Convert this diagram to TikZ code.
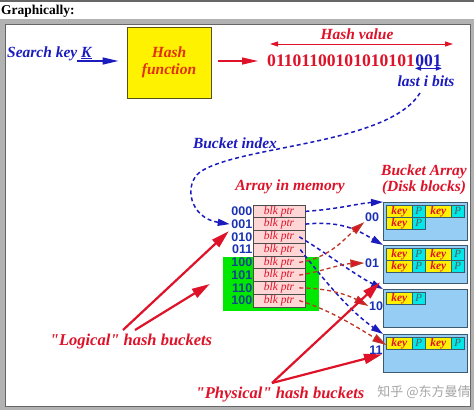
\documentclass[tikz,border=0pt]{standalone}
\usepackage{fontspec}
\setmainfont{Liberation Serif}
\setsansfont{Liberation Sans}
\newfontfamily\cjkfont{Noto Sans CJK SC}
\usetikzlibrary{arrows.meta}

\definecolor{myred}{RGB}{222,18,40}
\definecolor{fnred}{RGB}{226,48,12}
\definecolor{dashred}{RGB}{192,52,40}
\definecolor{myblue}{RGB}{28,28,190}
\definecolor{labblue}{RGB}{26,50,180}
\definecolor{labteal}{RGB}{16,70,140}
\definecolor{cellpink}{RGB}{255,214,214}
\definecolor{diskblue}{RGB}{150,205,245}
\definecolor{diskedge}{RGB}{60,90,110}
\definecolor{pcyan}{RGB}{0,232,232}
\definecolor{mygreen}{RGB}{0,232,0}
\definecolor{boxedge}{RGB}{90,80,20}

\newcommand\diskrec[3]{%
  \node[keybox] (#1k) at (#2,#3) {key};
  \node[pbox] (#1p) at ({#2+26},#3) {P};}

\tikzset{
  serifbi/.style={font=\fontsize{#1}{#1}\selectfont\bfseries\itshape, inner sep=0},
  bluetext/.style={serifbi=15.5, text=myblue},
  redtext/.style={serifbi=15.5, text=myred},
  hashbox/.style={draw=boxedge, line width=1pt, fill=yellow, minimum width=84, minimum height=71,
     align=center, font=\fontsize{15.5}{17}\selectfont\bfseries\itshape, text=fnred},
  cell/.style={draw=black!70, line width=0.6pt, fill=cellpink, minimum width=52, minimum height=12.75,
     inner sep=0, font=\fontsize{11.5}{11.5}\selectfont\itshape, text=myred},
  lbl/.style={font=\fontsize{12.5}{12.5}\selectfont\sffamily\bfseries, inner sep=0.5pt},
  disk/.style={draw=diskedge, line width=0.8pt, fill=diskblue, minimum width=84, minimum height=38,
     inner sep=0, anchor=north west},
  keybox/.style={draw=diskedge, line width=0.6pt, fill=yellow, minimum width=26, minimum height=12,
     inner sep=0, anchor=north west, font=\fontsize{11.5}{11.5}\selectfont\bfseries\itshape, text=myred},
  pbox/.style={draw=diskedge, line width=0.6pt, fill=pcyan, minimum width=13, minimum height=12,
     inner sep=0, anchor=north west, font=\fontsize{11}{11}\selectfont\itshape, text=black!65},
  bigred/.style={draw=myred, line width=2.2pt, -{Triangle[length=18pt,width=10pt]}},
  bluedash/.style={draw=myblue, line width=1.5pt, dash pattern=on 4pt off 3pt,
     -{Triangle[length=12pt,width=7pt]}},
  reddash/.style={draw=dashred, line width=1.3pt, dash pattern=on 4pt off 3pt,
     -{Triangle[length=14pt,width=8pt,fill=myred]}},
}

\begin{document}
\begin{tikzpicture}[x=1pt,y=-1pt]
\useasboundingbox (0,0) rectangle (474,410);

% page frame
\fill[black!60] (0,0) rectangle (474,2);
\node[anchor=west, font=\fontsize{13.5}{14}\selectfont\bfseries, inner sep=0] (title) at (1,11) {Graphically:};
\fill[black!30] (0,19) rectangle (474,410);
\fill[white] (5,24) rectangle (470,406);
\draw[black!60, line width=0.6pt] (5,24) rectangle (470,406);

% hashing
\node[hashbox] (hashfn) at (169,62.5) {Hash\\function};
\node[bluetext, anchor=base west] (search) at (7,57) {Search key \underline{K}};
\coordinate (skstart) at (77,61);
\draw[myblue, line width=1.5pt, -{Triangle[length=16pt,width=7pt]}]
  (skstart) -- ([xshift=-8pt]hashfn.west |- skstart);

\node[anchor=base west, inner sep=0, font=\fontsize{17.6}{17.6}\selectfont\bfseries, text=myred]
  (hv1) at (267,66) {01101100101010101};
\node[anchor=base west, inner sep=0, font=\fontsize{17.6}{17.6}\selectfont\bfseries, text=myblue]
  (hv2) at (hv1.base east) {001};
\draw[myred, line width=1.2pt, -{Triangle[length=16pt,width=7pt]}]
  ([xshift=6pt]hashfn.east |- skstart) -- ([xshift=-9pt]hv1.west |- skstart);

\node[redtext] (hvlabel) at (357,34) {Hash value};
\coordinate (hvl) at (270,44);
\coordinate (hvr) at (453,44);
\draw[myred, line width=1pt, {Triangle[length=8pt,width=5pt]}-{Triangle[length=8pt,width=5pt]}] (hvl) -- (hvr);
\draw[myblue, line width=1pt, {Triangle[length=6pt,width=4.5pt]}-{Triangle[length=6pt,width=4.5pt]}]
  ([yshift=-2pt]hv2.south west) -- ([yshift=-2pt]hv2.south east);
\node[bluetext] (lastbits) at (426,81) {last i bits};

\node[bluetext] (bidx) at (235,143) {Bucket index};

% array in memory
\node[redtext] (aim) at (290,187) {Array in memory};
\node[fill=mygreen, minimum width=96, minimum height=54, inner sep=0] (greenzone) at (271,284) {};
\foreach \lab [count=\i from 0] in {000,001,010,011} {
  \node[cell] (r\i) at (279, {205+12.75*(\i+0.5)}) {blk ptr};
  \node[lbl, anchor=east, text=labblue] (l\i) at (253, {205+12.75*(\i+0.5)}) {\lab};
}
\foreach \lab [count=\i from 4] in {100,101,110,100} {
  \node[cell] (r\i) at (279, {205+12.75*(\i+0.5)}) {blk ptr};
  \node[lbl, anchor=east, text=labteal] (l\i) at (253, {205+12.75*(\i+0.5)}) {\lab};
}

% bucket index curve
\coordinate (bistart) at (420,93);
\draw[bluedash] (bistart) .. controls (388,145) and (240,145) .. (200,172)
  .. controls (183,185) and (190,218) .. ([xshift=-1pt]l1.west);

% disk blocks
\node[redtext] (batitle) at (424,172) {Bucket Array};
\node[redtext] (batitle2) at (424,188) {(Disk blocks)};
\node[disk] (b1) at (383,202) {};
\node[disk] (b2) at (383,245) {};
\node[disk] (b3) at (383,289) {};
\node[disk] (b4) at (383,334) {};
\diskrec{b1a}{386}{205}
\diskrec{b1b}{425}{205}
\diskrec{b1c}{386}{217}
\diskrec{b2a}{386}{248}
\diskrec{b2b}{425}{248}
\diskrec{b2c}{386}{260}
\diskrec{b2d}{425}{260}
\diskrec{b3a}{386}{292}
\diskrec{b4a}{386}{337}
\diskrec{b4b}{425}{337}

\node[lbl, text=labblue] (n00) at (372,217) {00};
\node[lbl, text=labblue] (n01) at (372,263) {01};
\node[lbl, text=labblue] (n10) at (376,306) {10};
\node[lbl, text=labblue] (n11) at (376,350) {11};

% pointers
\draw[bluedash] (r0.east) .. controls (340,209) and (360,203) .. (b1.north west);
\draw[bluedash] (r1.east) .. controls (345,220) and (362,233) .. (b2.north west);
\draw[bluedash] ([xshift=-6pt]r2.east) .. controls (325,252) and (355,275) .. (b3.north west);
\draw[bluedash] ([xshift=-5pt]r3.east) .. controls (315,268) and (345,308) .. (b4.north west);

\draw[reddash] ([xshift=-6pt]r4.east) .. controls (330,258) and (345,238) .. (n00.south west);
\draw[reddash] ([xshift=-6pt]r5.east) .. controls (320,272) and (340,264) .. (n01.west);
\draw[reddash] ([xshift=-6pt]r6.east) .. controls (330,288) and (350,296) .. (n10.west);
\draw[reddash] ([xshift=-6pt]r7.east) .. controls (330,310) and (355,326) .. ([xshift=3pt]n11.north east);

% labels with big arrows
\node[serifbi=16.5, text=myred] (logical) at (131,342) {\textquotedbl Logical\textquotedbl{} hash buckets};
\node[serifbi=16.5, text=myred] (physical) at (280,395) {\textquotedbl Physical\textquotedbl{} hash buckets};
\coordinate (lg1) at (123,330);
\coordinate (lg2) at (135,330);
\coordinate (ph) at (272,383);
\draw[bigred] (lg1) -- ([xshift=-2pt,yshift=-2pt]l1.south west);
\draw[bigred] (lg2) -- ([xshift=-13pt]greenzone.west);
\draw[bigred] (ph) -- ([xshift=-3pt,yshift=-18pt]b2.west);
\draw[bigred] (ph) -- ([xshift=-1pt,yshift=-1pt]b4.west);

% watermark
\node[font=\cjkfont\fontsize{13}{13}\selectfont, text=black!35, inner sep=0] (wm) at (424,392) {知乎 @东方曼倩};
\end{tikzpicture}
\end{document}
